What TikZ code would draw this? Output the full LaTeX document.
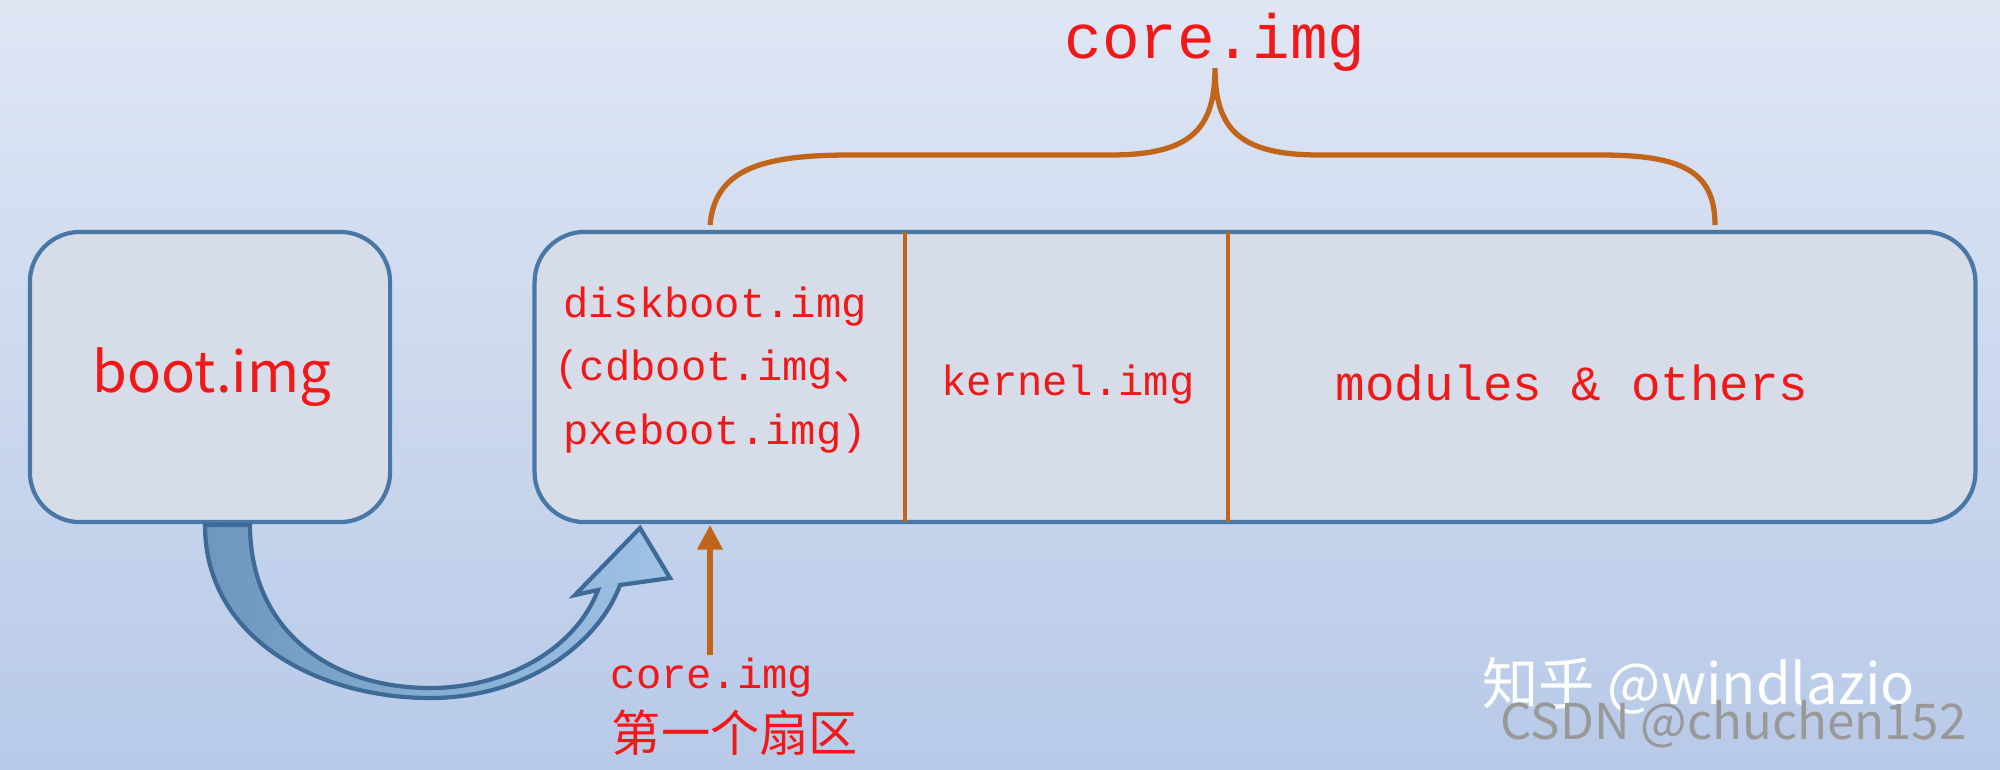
\documentclass[tikz,border=0pt]{standalone}
\usepackage{fontspec}
\setmainfont{Liberation Mono}
\newfontfamily\cjk{Noto Sans CJK SC}
\usetikzlibrary{arrows.meta}
\definecolor{boxfill}{HTML}{D6DDE8}
\definecolor{boxline}{HTML}{4A78A6}
\definecolor{brn}{HTML}{C0651A}
\definecolor{txt}{HTML}{F01818}
\begin{document}
\begin{tikzpicture}[x=0.01cm,y=-0.01cm,
  box/.style={draw=boxline,line width=1.2pt,fill=boxfill,rounded corners=0.5cm},
  lbl/.style={text=txt,inner sep=0pt,align=center,font=\fontsize{12pt}{16pt}\selectfont},
  div/.style={draw=brn,line width=1.3pt}]
\shade[top color={rgb,255:red,223;green,230;blue,244},bottom color={rgb,255:red,184;green,202;blue,232}] (0,0) rectangle (2000,769);
\useasboundingbox (0,0) rectangle (2000,769);
\node[box,minimum width=3.6cm,minimum height=2.9cm] (boot) at (210,377) {};
\node[text=txt,font=\cjk\fontsize{16pt}{18pt}\selectfont] (bt) at (212,377) {boot.img};
\node[box,minimum width=14.4cm,minimum height=2.9cm] (core) at (1255,377) {};
\coordinate (d1t) at (905,232); \coordinate (d1b) at (905,522);
\coordinate (d2t) at (1228,232); \coordinate (d2b) at (1228,522);
\draw[div] (d1t) -- (d1b);
\draw[div] (d2t) -- (d2b);
\node[lbl] (disk) at (715,370) {diskboot.img\\[2pt](cdboot.img{\cjk 、}\\[2pt]pxeboot.img)};
\node[lbl] (kern) at (1068,385) {kernel.img};
\node[lbl,font=\fontsize{14pt}{16pt}\selectfont] (mods) at (1572,383) {modules \& others};
\node[text=txt,inner sep=0pt,font=\fontsize{17.8pt}{20pt}\selectfont] (ci) at (1215,42) {core.img};
\coordinate (bl) at (710,225); \coordinate (br) at (1715,225); \coordinate (bm) at (1215,68);
\draw[brn,line width=1.5pt] (bl) .. controls (715,170) and (760,155) .. (850,155) -- (1110,155) .. controls (1190,155) and (1215,130) .. (bm)
  (bm) .. controls (1215,130) and (1240,155) .. (1320,155) -- (1600,155) .. controls (1680,155) and (1715,170) .. (br);
\coordinate (ab) at (710,655); \coordinate (at) at (710,525);
\draw[brn,line width=1.5pt,-{Triangle[length=7pt,width=7pt]}] (ab) -- (at);
\node[text=txt,inner sep=0pt,align=center,font=\fontsize{12pt}{14pt}\selectfont] (cs) at (712,678) {core.img};
\node[text=txt,inner sep=0pt,font=\cjk\fontsize{14pt}{16pt}\selectfont] (cs2) at (735,733) {第一个扇区};
\fill[left color={rgb,255:red,110;green,150;blue,190},right color={rgb,255:red,160;green,195;blue,230},draw={rgb,255:red,62;green,106;blue,152},line width=1.2pt]
 (205,525) .. controls (205,640) and (320,698) .. (430,698) .. controls (530,698) and (600,640) .. (620,585)
 -- (670,578) -- (640,528) -- (575,595) -- (598,590)
 .. controls (575,650) and (505,688) .. (430,688) .. controls (330,688) and (250,630) .. (250,525) -- cycle;
\node[text=white,inner sep=0pt,anchor=west,font=\cjk\fontsize{16pt}{18pt}\selectfont] (w1) at (1482,686) {知乎 @windlazio};
\node[text=gray!80,inner sep=0pt,anchor=west,font=\cjk\fontsize{14pt}{16pt}\selectfont] (w2) at (1500,724) {CSDN @chuchen152};
\end{tikzpicture}
\end{document}
